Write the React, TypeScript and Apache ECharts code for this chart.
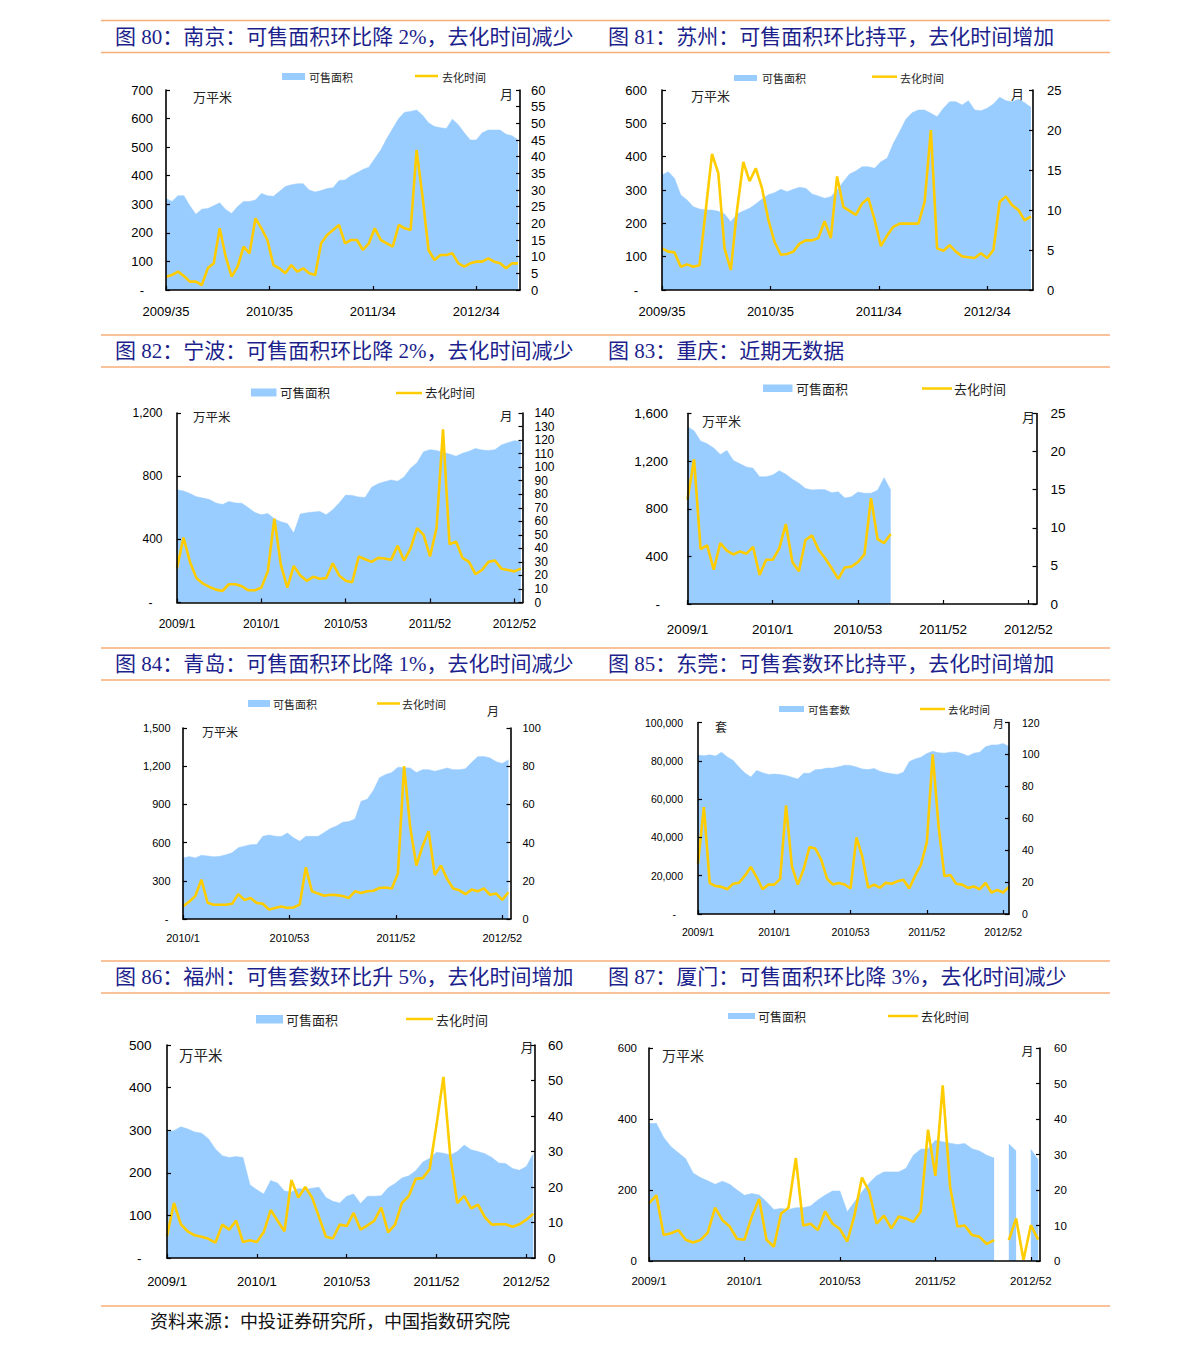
import React, { useEffect, useRef } from "react";
import * as echarts from "echarts";

// ---------- data (weekly, sampled) ----------
// 图80 南京 (step 3 weeks, from 2009/35)
const nanjingArea = [320,310,330,330,295,265,283,285,295,305,282,268,292,310,310,315,338,330,328,345,362,368,372,372,350,343,348,355,358,383,385,400,410,422,430,460,490,530,565,600,622,625,630,612,585,572,568,565,598,578,550,525,525,550,560,560,560,545,540,525];
const nanjingTurnover = [4,4.5,5.5,4.2,2.5,2.5,1.5,6.5,8,18.5,10,4,7,13,11,21.5,18.5,15,7.5,6.5,5,7.5,5.5,6.5,5,4.5,14,16.5,18,19.5,14,15,15,12,14,18.5,15,14,13,19.5,18.5,18,42,28,12,9,10.5,10.5,11,8,7,8,8.5,8.5,9.5,8.5,8,6.5,8,8];
// 图81 苏州 (step 3 weeks, from 2009/35)
const suzhouArea = [345,355,335,285,270,250,243,240,240,236,228,205,228,237,245,258,273,286,292,302,295,302,308,305,288,282,275,280,300,325,348,357,370,370,365,385,395,440,475,512,532,540,540,530,520,545,565,565,555,568,540,538,545,558,578,568,565,572,562,548];
const suzhouTurnover = [5.2,4.8,4.7,2.9,3.2,2.9,3.1,10,17,14.6,5.2,2.5,10,16,13.6,15.2,12.7,8.8,6,4.4,4.5,4.8,5.8,6.2,6.2,6.5,8.6,6.5,14.2,10.4,9.9,9.4,10.8,11.5,8.8,5.5,6.8,7.9,8.3,8.3,8.3,8.3,11,20,5.2,4.9,5.6,4.8,4.2,4.1,4,4.6,4,5,11,11.7,10.6,10,8.7,9.2];
// 图82 宁波 (step 4 weeks, from 2009/1)
const ningboArea = [714,706,690,670,661,652,630,620,640,630,628,600,570,555,563,530,512,500,440,560,568,573,577,556,587,630,680,678,668,665,730,752,765,776,768,795,850,885,955,968,962,950,940,926,945,957,975,966,962,968,998,1012,1025,1020];
const ningboTurnover = [25.4,48,30,18,14,11.5,9.5,8.5,13.5,13.5,12,9,9,11,23,62,28,11,27,20,16,19,17.5,18,29,20,16,15,34,32,30,33,32.5,31.5,42,31,40,55,50,34,55,128,43,45,33,30,21,24,30,31,25,24,23,25];
// 图83 重庆 (step 4 weeks, from 2009/1)
const chongqingArea = [1488,1455,1370,1345,1310,1255,1290,1205,1178,1150,1140,1069,1069,1083,1120,1090,1048,1015,970,958,962,960,935,942,890,900,940,930,930,955,1060,958];
const chongqingTurnover = [13.7,19,7.2,7.7,4.5,8,7,6.5,6.9,6.6,7.5,3.8,5.8,5.8,7.3,10.5,5.5,4.3,8.4,9,7.1,6,4.7,3.3,4.8,4.9,5.5,6.5,13.9,8.5,8,9.2];
// 图84 青岛 (step 3 weeks, from 2010/1)
const qingdaoArea = [479,490,480,500,495,488,492,505,520,560,572,584,585,649,660,650,648,675,638,610,649,649,649,680,710,730,760,765,785,924,940,1010,1110,1134,1150,1192,1188,1186,1150,1173,1173,1160,1172,1186,1173,1173,1180,1230,1275,1276,1265,1235,1222,1250];
const qingdaoTurnover = [6.6,9,12,20.6,8.5,7.5,7.5,7.5,8,13,10,11,8.4,8,5,5.8,6.6,5.8,6,7.5,27,14.5,13.3,12.2,12.7,12.5,12,11,14.5,13.6,14.5,14.8,16.2,16.5,16,24,80,48,28,38,46,23,28,21,16,15,13,15.4,14.5,16,12.7,13.3,10,14];
// 图85 东莞 (step 4 weeks, from 2009/1)
const dongguanUnits = [83000,82600,83100,82500,84500,82000,80200,76600,73600,71500,75000,73700,72900,73100,72800,72300,71400,70500,73500,73500,75300,75600,76200,76200,76900,77700,77600,76700,75700,75400,76000,74500,73700,73300,72900,74000,79500,81000,81800,83800,85000,84200,84000,84500,84600,83800,82500,84000,84500,87300,88300,88300,89000,87500];
const dongguanTurnover = [31.5,67,19.4,17.5,17,15.5,19,19.6,24,29.5,23,15.5,18.4,18.4,22,68,30,18.4,28,42,41,34,22,18.5,19.5,18.5,16,48,36,16.5,18.4,16.5,19.5,19,20.5,21.5,16,24,31,45,100,55,23.6,24.5,19,18.4,16.3,17.3,15.5,19.5,13.5,15,13.5,17];
// 图86 福州 (step 4 weeks, from 2009/1)
const fuzhouArea = [297,299,308,303,296,293,280,256,240,236,238,236,172,160,150,182,176,157,155,163,161,164,166,142,133,129,145,150,128,145,145,146,165,175,188,193,205,225,234,248,246,242,250,265,254,250,245,236,223,222,210,206,215,245];
const fuzhouTurnover = [6.1,15.5,9.5,7.5,6.4,6,5.4,4.3,9.4,8,10.5,4.5,5,4.5,7.3,13.5,10.5,7.5,22,17,20,17,11.5,6,5.5,9.4,9,12.7,8,9.2,10.5,14.2,7.2,9.4,15.5,17.5,22.3,22.5,25,37.5,51,28.5,15.5,17.5,14,15,11.5,9.4,9.5,9.5,8.8,9.5,10.8,12.5];
// 图87 厦门 (step 4 weeks, from 2009/1)
const xiamenArea = [387,388,348,322,305,288,248,235,226,216,225,216,200,185,190,186,167,145,148,145,150,150,155,172,186,197,197,139,167,195,220,240,251,251,251,261,298,315,316,340,336,332,328,331,316,310,298,290,null,330,310,null,315,285];
const xiamenTurnover = [16.2,18.5,7.3,7.8,8.7,6,5.2,5.9,8,15,11.5,9.7,6.2,6,12.5,17.5,6,4,13.4,15,29,10,10.5,8.7,14,10.5,9,5.5,13,23.5,19.5,10.5,12.8,9.2,12.5,12,11,13.9,37,24,49.5,21,9.7,10,7.3,6.8,4.8,5.9,null,5.9,12,0.3,10.1,6];

// ---------- tick labels ----------
const ticks35 = [0, 52, 104, 156];
const labels35 = ["2009/35", "2010/35", "2011/34", "2012/34"];
const ticks09 = [0, 52, 104, 156, 208];
const labels09 = ["2009/1", "2010/1", "2010/53", "2011/52", "2012/52"];
const ticks10 = [0, 52, 104, 156];
const labels10 = ["2010/1", "2010/53", "2011/52", "2012/52"];

const titles = [
  "图 80：南京：可售面积环比降 2%，去化时间减少",
  "图 81：苏州：可售面积环比持平，去化时间增加",
  "图 82：宁波：可售面积环比降 2%，去化时间减少",
  "图 83：重庆：近期无数据",
  "图 84：青岛：可售面积环比降 1%，去化时间减少",
  "图 85：东莞：可售套数环比持平，去化时间增加",
  "图 86：福州：可售套数环比升 5%，去化时间增加",
  "图 87：厦门：可售面积环比降 3%，去化时间减少",
];
const source = "资料来源：中投证券研究所，中国指数研究院";

const AREA = "#99CCFF";
const LINE = "#FFCC00";
const RULE = "#F7AE7A";
const NAVY = "#1C1F8C";
const FONT_NUM = '"Liberation Sans", Arial, sans-serif';
const FONT_CJK = '"Noto Sans CJK SC", sans-serif';
const FONT_TITLE = '"Liberation Serif", "Noto Sans CJK SC", serif';

type Panel = {
  area: (number | null)[];
  turnover: (number | null)[];
  step: number;
  xMax: number;
  xTicks: number[];
  xLabels: string[];
  grid: [number, number, number, number];
  lMax: number; lInt: number; rMax: number; rInt: number;
  yFont: number; rFont: number; xFont: number;
  lMargin: number; rMargin: number; xMargin: number;
  dash: boolean; dashPad: number;
  areaName: string;
  lg: { rect: [number, number, number, number]; t1: [number, number]; line: [number, number, number]; t2: [number, number]; fs: number };
  unit: { text: string; x: number; y: number; fs: number };
  month: { x: number; y: number; fs: number };
};

const panels: Panel[] = [
  {
    area: nanjingArea, turnover: nanjingTurnover, step: 3, xMax: 178, xTicks: ticks35, xLabels: labels35,
    grid: [166, 90, 354, 200], lMax: 700, lInt: 100, rMax: 60, rInt: 5,
    yFont: 13, rFont: 13, xFont: 13, lMargin: 13, rMargin: 11, xMargin: 15, dash: true, dashPad: 9,
    areaName: "可售面积",
    lg: { rect: [282, 73, 23, 7], t1: [309, 76.5], line: [415, 438, 76], t2: [442, 76.5], fs: 11 },
    unit: { text: "万平米", x: 193, y: 96, fs: 13 }, month: { x: 500, y: 93, fs: 13 },
  },
  {
    area: suzhouArea, turnover: suzhouTurnover, step: 3, xMax: 178, xTicks: ticks35, xLabels: labels35,
    grid: [662, 90, 371, 200], lMax: 600, lInt: 100, rMax: 25, rInt: 5,
    yFont: 13, rFont: 13, xFont: 13, lMargin: 15, rMargin: 14, xMargin: 15, dash: true, dashPad: 9,
    areaName: "可售面积",
    lg: { rect: [734, 75, 23, 6], t1: [762, 77.5], line: [872, 897, 76.7], t2: [900, 77.5], fs: 11 },
    unit: { text: "万平米", x: 691, y: 95, fs: 13 }, month: { x: 1011, y: 93, fs: 13 },
  },
  {
    area: ningboArea, turnover: ningboTurnover, step: 4, xMax: 213, xTicks: ticks09, xLabels: labels09,
    grid: [177, 413, 345.5, 189.5], lMax: 1200, lInt: 400, rMax: 140, rInt: 10,
    yFont: 12, rFont: 12, xFont: 12, lMargin: 14.5, rMargin: 12, xMargin: 15.5, dash: true, dashPad: 10,
    areaName: "可售面积",
    lg: { rect: [251, 388.5, 25.5, 8], t1: [280, 392.5], line: [396, 422, 393], t2: [425, 392.5], fs: 12.5 },
    unit: { text: "万平米", x: 193, y: 416.5, fs: 12.5 }, month: { x: 500, y: 415, fs: 12.5 },
  },
  {
    area: chongqingArea, turnover: chongqingTurnover, step: 4, xMax: 213, xTicks: ticks09, xLabels: labels09,
    grid: [687.5, 413.5, 349, 190.5], lMax: 1600, lInt: 400, rMax: 25, rInt: 5,
    yFont: 13.5, rFont: 13.5, xFont: 13.5, lMargin: 19.5, rMargin: 14, xMargin: 18, dash: true, dashPad: 8,
    areaName: "可售面积",
    lg: { rect: [763, 384.5, 29.5, 7.5], t1: [796, 388.5], line: [922, 952, 388.5], t2: [954, 388.5], fs: 13 },
    unit: { text: "万平米", x: 702, y: 420, fs: 13 }, month: { x: 1022, y: 416.5, fs: 13 },
  },
  {
    area: qingdaoArea, turnover: qingdaoTurnover, step: 3, xMax: 160, xTicks: ticks10, xLabels: labels10,
    grid: [183, 728, 327.5, 191], lMax: 1500, lInt: 300, rMax: 100, rInt: 20,
    yFont: 11, rFont: 11, xFont: 11, lMargin: 12.5, rMargin: 12, xMargin: 13.5, dash: true, dashPad: 2,
    areaName: "可售面积",
    lg: { rect: [248, 700, 22, 7], t1: [273, 704], line: [377, 400, 703.5], t2: [402, 704], fs: 11 },
    unit: { text: "万平米", x: 202, y: 731.5, fs: 12 }, month: { x: 487, y: 710.5, fs: 12 },
  },
  {
    area: dongguanUnits, turnover: dongguanTurnover, step: 4, xMax: 212, xTicks: ticks09, xLabels: labels09,
    grid: [698, 722.5, 311, 191.5], lMax: 100000, lInt: 20000, rMax: 120, rInt: 20,
    yFont: 10.5, rFont: 10.5, xFont: 10.5, lMargin: 15, rMargin: 13, xMargin: 12, dash: true, dashPad: 7,
    areaName: "可售套数",
    lg: { rect: [779, 706, 25, 6], t1: [808, 709], line: [920, 945, 709], t2: [948, 709], fs: 10.5 },
    unit: { text: "套", x: 715, y: 726.5, fs: 12 }, month: { x: 993, y: 723, fs: 11 },
  },
  {
    area: fuzhouArea, turnover: fuzhouTurnover, step: 4, xMax: 213, xTicks: ticks09, xLabels: labels09,
    grid: [167, 1045, 368, 213], lMax: 500, lInt: 100, rMax: 60, rInt: 10,
    yFont: 13.5, rFont: 13.5, xFont: 13, lMargin: 15.5, rMargin: 13, xMargin: 17, dash: true, dashPad: 10,
    areaName: "可售面积",
    lg: { rect: [256, 1015, 27, 8.5], t1: [286, 1019.5], line: [406, 433, 1019], t2: [436, 1019.5], fs: 13 },
    unit: { text: "万平米", x: 179, y: 1054, fs: 14.5 }, month: { x: 520.5, y: 1046.5, fs: 13 },
  },
  {
    area: xiamenArea, turnover: xiamenTurnover, step: 4, xMax: 213, xTicks: ticks09, xLabels: labels09,
    grid: [649, 1048, 391, 213], lMax: 600, lInt: 200, rMax: 60, rInt: 10,
    yFont: 11.5, rFont: 11.5, xFont: 11.5, lMargin: 12, rMargin: 14, xMargin: 14, dash: false, dashPad: 0,
    areaName: "可售面积",
    lg: { rect: [728, 1013, 27, 6], t1: [758, 1016.5], line: [888, 918, 1016], t2: [921, 1016.5], fs: 12 },
    unit: { text: "万平米", x: 662, y: 1055, fs: 14 }, month: { x: 1021.5, y: 1050, fs: 12 },
  },
];

const titlePos: [number, number][] = [
  [115, 37], [608, 37], [115, 351], [608, 351], [115, 664], [608, 664], [115, 977], [608, 977],
];
const ruleYs = [20.5, 52.5, 335, 367, 648, 680, 961, 993, 1306];

const toPairs = (arr: (number | null)[], step: number) => arr.map((v, k) => [k * step, v]);

function txt(x: number, y: number, text: string, fs: number, fill: string, family: string) {
  return {
    type: "text", x, y, silent: true,
    style: { text, fontSize: fs, fontFamily: family, fill, align: "left", verticalAlign: "middle", textAlign: "left", textVerticalAlign: "middle" },
  };
}

function buildOption() {
  const axisLine = { show: true, onZero: false, lineStyle: { color: "#000", width: 1.6 } };
  const grid = panels.map((p) => ({ left: p.grid[0], top: p.grid[1], width: p.grid[2], height: p.grid[3], containLabel: false }));
  const xAxis = panels.map((p, i) => ({
    gridIndex: i, type: "value", min: 0, max: p.xMax, z: 5,
    axisLine,
    axisTick: { show: true, inside: true, length: 4, customValues: p.xTicks, lineStyle: { color: "#000", width: 1.2 } },
    axisLabel: {
      customValues: p.xTicks, fontSize: p.xFont, fontFamily: FONT_NUM, color: "#000", margin: p.xMargin,
      formatter: (v: number) => { const k = p.xTicks.indexOf(v); return k >= 0 ? p.xLabels[k] : ""; },
    },
    splitLine: { show: false },
  }));
  const yAxis: any[] = [];
  panels.forEach((p, i) => {
    yAxis.push({
      gridIndex: i, type: "value", position: "left", min: 0, max: p.lMax, interval: p.lInt, z: 5,
      axisLine,
      axisTick: { show: true, inside: true, length: 4, lineStyle: { color: "#000", width: 1.2 } },
      axisLabel: {
        fontSize: p.yFont, fontFamily: FONT_NUM, color: "#000", margin: p.lMargin,
        formatter: (v: number) => (v === 0 ? (p.dash ? "{d|-}" : "0") : v.toLocaleString("en-US")),
        rich: { d: { fontSize: p.yFont, fontFamily: FONT_NUM, color: "#000", padding: [0, p.dashPad, 0, 0] } },
      },
      splitLine: { show: false },
    });
    yAxis.push({
      gridIndex: i, type: "value", position: "right", min: 0, max: p.rMax, interval: p.rInt, z: 5,
      axisLine,
      axisTick: { show: true, inside: true, length: 4, lineStyle: { color: "#000", width: 1.2 } },
      axisLabel: { fontSize: p.rFont, fontFamily: FONT_NUM, color: "#000", margin: p.rMargin },
      splitLine: { show: false },
    });
  });
  const series: any[] = [];
  panels.forEach((p, i) => {
    series.push({
      name: p.areaName, type: "line", xAxisIndex: i, yAxisIndex: 2 * i, data: toPairs(p.area, p.step),
      symbol: "none", showSymbol: false, silent: true, z: 1,
      lineStyle: { width: 0.5, color: AREA }, itemStyle: { color: AREA }, areaStyle: { color: AREA, opacity: 1 },
    });
    series.push({
      name: "去化时间", type: "line", xAxisIndex: i, yAxisIndex: 2 * i + 1, data: toPairs(p.turnover, p.step),
      symbol: "none", showSymbol: false, silent: true, z: 3,
      lineStyle: { width: 2.6, color: LINE }, itemStyle: { color: LINE },
    });
  });

  const graphic: any[] = [];
  ruleYs.forEach((y) => {
    graphic.push({ type: "line", silent: true, shape: { x1: 101, y1: y, x2: 1110, y2: y }, style: { stroke: RULE, lineWidth: 1.5 } });
  });
  titles.forEach((t, i) => {
    graphic.push(txt(titlePos[i][0], titlePos[i][1], t, 21, NAVY, FONT_TITLE));
  });
  panels.forEach((p) => {
    const [rx, ry, rw, rh] = p.lg.rect;
    graphic.push({ type: "rect", silent: true, shape: { x: rx, y: ry, width: rw, height: rh }, style: { fill: AREA } });
    graphic.push(txt(p.lg.t1[0], p.lg.t1[1], p.areaName, p.lg.fs, "#222", FONT_CJK));
    graphic.push({ type: "line", silent: true, shape: { x1: p.lg.line[0], y1: p.lg.line[2], x2: p.lg.line[1], y2: p.lg.line[2] }, style: { stroke: LINE, lineWidth: 2.5 } });
    graphic.push(txt(p.lg.t2[0], p.lg.t2[1], "去化时间", p.lg.fs, "#222", FONT_CJK));
    graphic.push(txt(p.unit.x, p.unit.y, p.unit.text, p.unit.fs, "#222", FONT_CJK));
    graphic.push(txt(p.month.x, p.month.y, "月", p.month.fs, "#222", FONT_CJK));
  });
  graphic.push(txt(150, 1322, source, 18, "#111", FONT_TITLE));

  return { animation: false, backgroundColor: "#fff", grid, xAxis, yAxis, series, graphic };
}

export default function App() {
  const ref = useRef<HTMLDivElement>(null);
  useEffect(() => {
    if (!ref.current) return;
    const chart = echarts.init(ref.current, undefined, { renderer: "svg" });
    chart.setOption(buildOption() as any);
    return () => chart.dispose();
  }, []);
  return (
    <div
      ref={ref}
      style={{ position: "absolute", left: 0, top: 0, width: 1191, height: 1352, background: "#fff" }}
    />
  );
}
